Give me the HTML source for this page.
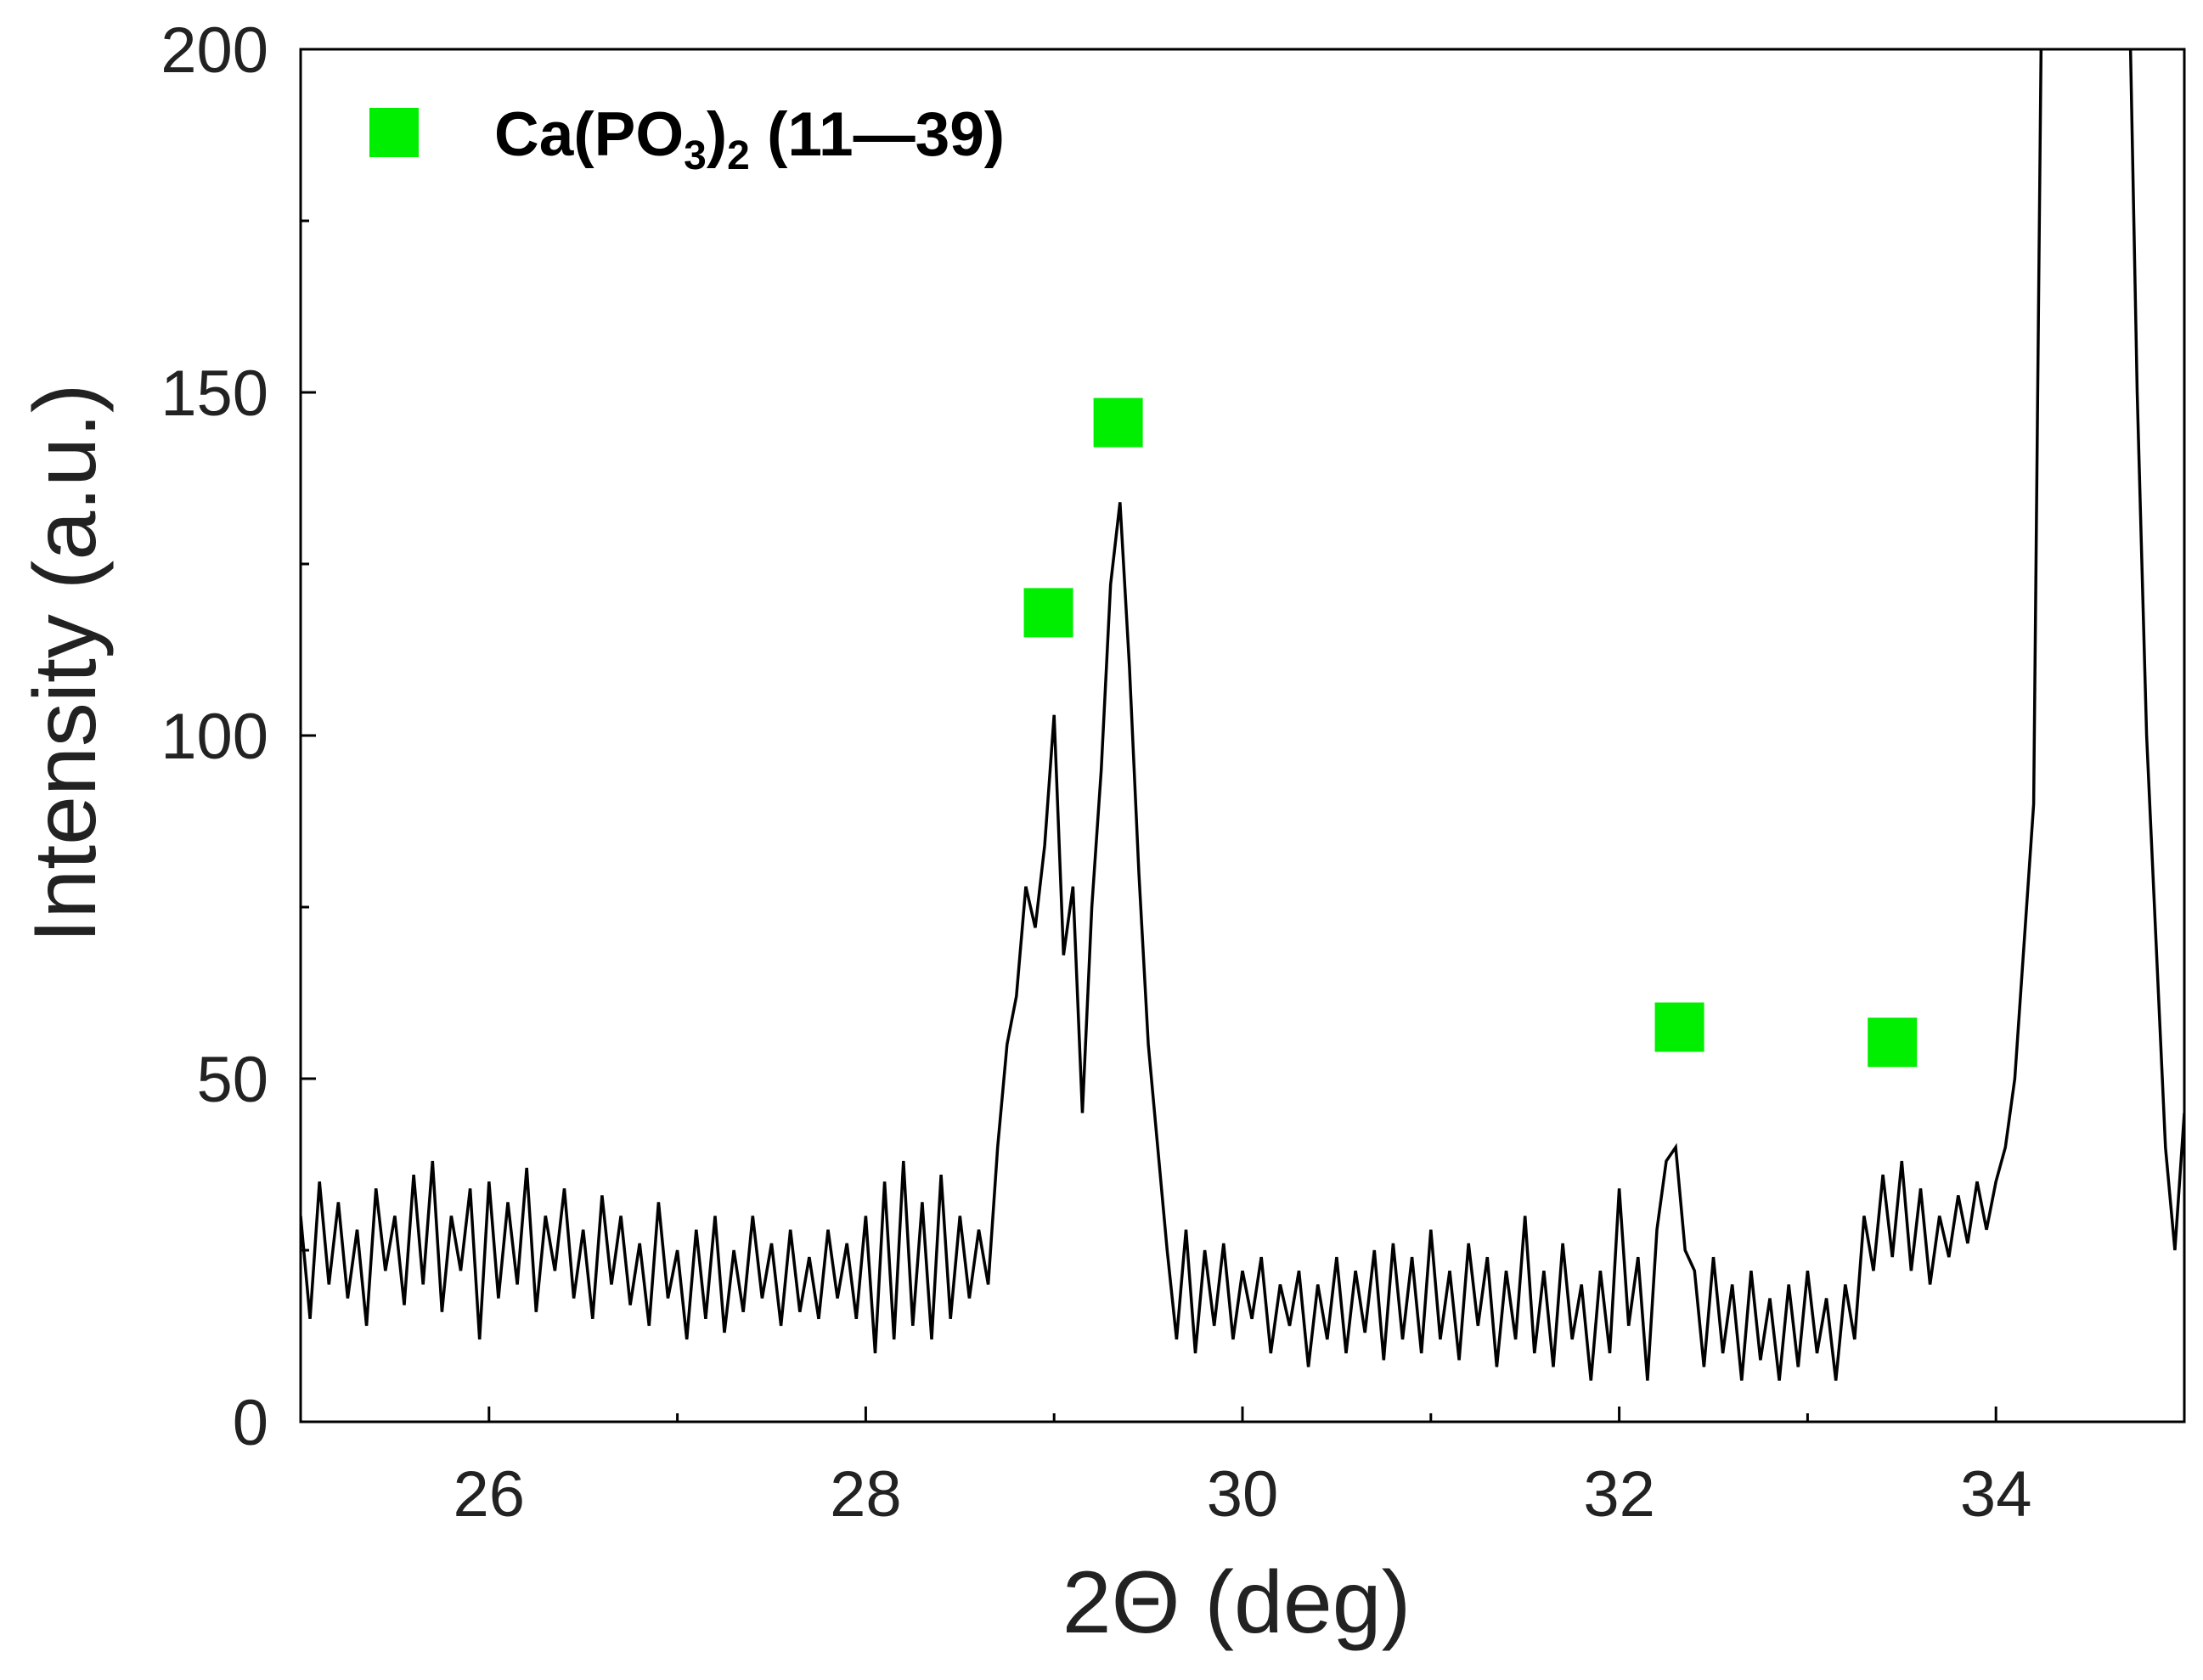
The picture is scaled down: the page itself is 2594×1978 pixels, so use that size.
<!DOCTYPE html>
<html><head><meta charset="utf-8"><style>
html,body{margin:0;padding:0;background:#fff;}
svg{display:block;font-family:"Liberation Sans",Arial,sans-serif;}
</style></head><body>
<svg id="chart" width="2594" height="1978" viewBox="0 0 2594 1978" xmlns="http://www.w3.org/2000/svg">
<defs><clipPath id="plotclip"><rect x="354" y="58" width="2218" height="1616"/></clipPath></defs>
<g id="series" clip-path="url(#plotclip)"></g>
<g id="markers"></g>
<rect x="354" y="58" width="2218" height="1616" fill="none" stroke="#000" stroke-width="3"/>
<g id="axes"></g>
<rect x="435" y="127" width="58" height="58" fill="#00ee00"/>
<text x="582" y="183" font-size="73" font-weight="bold">Ca(PO<tspan font-size="48" dy="16">3</tspan><tspan dy="-16">)</tspan><tspan font-size="48" dy="16">2</tspan><tspan dy="-16"> (11—39)</tspan></text>
<text x="1456" y="1922" font-size="104" text-anchor="middle" fill="#222">2Θ (deg)</text>
<text transform="translate(112,781) rotate(-90)" font-size="104" text-anchor="middle" fill="#222">Intensity (a.u.)</text>
</svg>
<script>
const xStart = 25.0;
const xStep = 0.05;
const intensity = [
30,15,35,20,32,18,28,14,34,22,30,17,36,20,38,16,30,22,34,12,
35,18,32,20,37,16,30,22,34,18,28,15,33,20,30,17,26,14,32,18,
25,12,28,15,30,13,25,16,30,18,26,14,28,16,24,15,28,18,26,15,
30,10,35,12,38,14,32,12,36,15,30,18,28,20,
40,55,62,78,72,84,103,68,78,45,75,95,122,134,110,80,55,40,25,12,
28,10,25,14,26,12,22,15,24,10,20,14,22,8,20,12,24,10,22,13,25,9,26,12,24,10,
28,12,22,9,26,14,24,8,22,12,30,10,22,8,26,12,20,6,22,10,34,14,24,6,28,
38,40,25,
22,8,24,10,20,6,22,9,18,6,20,8,22,10,18,6,20,12,
30,22,36,24,38,22,34,20,30,24,33,26,35,28,
35,40,50,70,90,230,300,300,300,300,300,300,300,300,220,150,100,70,40,25,45
];
const yTicks = [0,50,100,150,200];
const xTicks = [26,28,30,32,34];
const markerX = [28.97,29.34,32.32,33.45];
const markerY = [117.9,145.6,57.5,55.3];

const X0=354,X1=2572,Y0=1674,Y1=58;
const sx = v => X0 + (v-25)/(35-25)*(X1-X0);
const sy = v => Y0 - v/200*(Y0-Y1);
const NS="http://www.w3.org/2000/svg";

const pts = intensity.map((v,i)=>sx(xStart+i*xStep).toFixed(1)+","+sy(v).toFixed(1)).join(" ");
const line=document.createElementNS(NS,"polyline");
line.setAttribute("points",pts);
line.setAttribute("fill","none");
line.setAttribute("stroke","#000");
line.setAttribute("stroke-width","3.5");


document.getElementById("series").appendChild(line);

const mk=document.getElementById("markers");
markerX.forEach((x,i)=>{
  const r=document.createElementNS(NS,"rect");
  r.setAttribute("x",sx(x)-29);r.setAttribute("y",sy(markerY[i])-29);
  r.setAttribute("width",58);r.setAttribute("height",58);r.setAttribute("fill","#00ee00");
  
  
  mk.appendChild(r);
});

const ax=document.getElementById("axes");
function ln(x1,y1,x2,y2){const l=document.createElementNS(NS,"line");
l.setAttribute("x1",x1);l.setAttribute("y1",y1);l.setAttribute("x2",x2);l.setAttribute("y2",y2);
l.setAttribute("stroke","#000");l.setAttribute("stroke-width","3");


ax.appendChild(l);}
function tx(x,y,s,anchor,name){const t=document.createElementNS(NS,"text");
t.setAttribute("x",x);t.setAttribute("y",y);t.setAttribute("font-size","76");
t.setAttribute("text-anchor",anchor);t.setAttribute("fill","#222");t.textContent=s;


ax.appendChild(t);}
for(let v=25;v<=35;v++){const big=xTicks.includes(v);ln(sx(v),Y0,sx(v),Y0-(big?18:10));}
xTicks.forEach(v=>tx(sx(v),1785,String(v),"middle","x-tick-label"));
for(let v=0;v<=200;v+=25){const big=yTicks.includes(v);ln(X0,sy(v),X0+(big?18:10),sy(v));}
yTicks.forEach(v=>tx(316,sy(v)+27,String(v),"end","y-tick-label"));
</script>
</body></html>
